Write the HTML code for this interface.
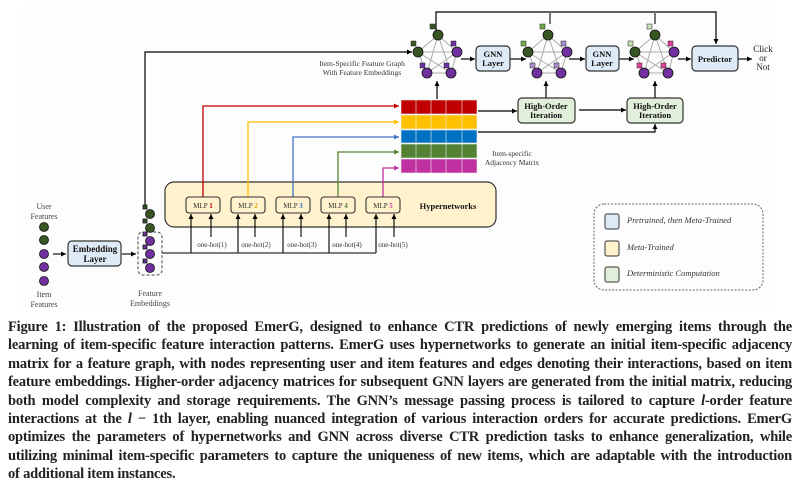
<!DOCTYPE html>
<html><head><meta charset="utf-8"><style>
body{margin:0;width:800px;height:479px;background:#fff;overflow:hidden;position:relative}
svg{position:absolute;left:0;top:0}
.cap{position:absolute;left:8px;width:784px;top:318px;font-family:"Liberation Serif",serif;font-size:14.5px;font-weight:bold;color:#222;line-height:18.4px;letter-spacing:-0.2px}
.cap div{text-align:justify;text-align-last:justify;white-space:nowrap;overflow:hidden}
.cap div.l{text-align-last:left}
</style></head><body>
<svg width="800" height="310" viewBox="0 0 800 310" font-family="Liberation Serif, serif">
<defs>
<marker id="a" markerWidth="6" markerHeight="6" refX="5" refY="3" orient="auto" markerUnits="userSpaceOnUse"><path d="M0,0.5 L5,3 L0,5.5z" fill="#000"/></marker>
<marker id="ar" markerWidth="6" markerHeight="6" refX="5" refY="3" orient="auto" markerUnits="userSpaceOnUse"><path d="M0,0.5 L5,3 L0,5.5z" fill="#c00000"/></marker>
<marker id="ay" markerWidth="6" markerHeight="6" refX="5" refY="3" orient="auto" markerUnits="userSpaceOnUse"><path d="M0,0.5 L5,3 L0,5.5z" fill="#ffc000"/></marker>
<marker id="ab" markerWidth="6" markerHeight="6" refX="5" refY="3" orient="auto" markerUnits="userSpaceOnUse"><path d="M0,0.5 L5,3 L0,5.5z" fill="#4472c4"/></marker>
<marker id="ag" markerWidth="6" markerHeight="6" refX="5" refY="3" orient="auto" markerUnits="userSpaceOnUse"><path d="M0,0.5 L5,3 L0,5.5z" fill="#548235"/></marker>
<marker id="am" markerWidth="6" markerHeight="6" refX="5" refY="3" orient="auto" markerUnits="userSpaceOnUse"><path d="M0,0.5 L5,3 L0,5.5z" fill="#c030a0"/></marker>
<g id="edges"><g stroke="#aaa" stroke-width="1" fill="none">
<path d="M0,0 L-20,17 M0,0 L19,17 M0,0 L-11,38 M0,0 L13,38 M-20,17 L19,17 M-20,17 L-11,38 M-20,17 L13,38 M19,17 L-11,38 M19,17 L13,38 M-11,38 L13,38"/></g></g>
</defs>
<rect x="22" y="6" width="752" height="303" fill="#fdfdfd"/>
<path d="M145,205 V52 H412" fill="none" stroke="#000" stroke-width="1.2" marker-end="url(#a)"/>
<path d="M436,33 V12 H716 V44" fill="none" stroke="#000" stroke-width="1.2" marker-end="url(#a)"/>
<path d="M550,12 V24 M655,12 V24" stroke="#777" stroke-width="2"/>
<g transform="translate(438,35)"><use href="#edges"/>
<rect x="-8" y="-11" width="5" height="5" fill="#375623" stroke="#222" stroke-width=".5"/><rect x="-27" y="6" width="5" height="5" fill="#375623" stroke="#222" stroke-width=".5"/><rect x="13" y="6" width="5" height="5" fill="#7030a0" stroke="#222" stroke-width=".5"/><rect x="-18" y="28" width="5" height="5" fill="#7030a0" stroke="#222" stroke-width=".5"/><rect x="6" y="28" width="5" height="5" fill="#7030a0" stroke="#222" stroke-width=".5"/>
<g stroke="#111" stroke-width=".8"><circle cx="0" cy="0" r="5" fill="#375623"/><circle cx="-20" cy="17" r="5" fill="#375623"/><circle cx="19" cy="17" r="5" fill="#7030a0"/><circle cx="-11" cy="38" r="5" fill="#7030a0"/><circle cx="13" cy="38" r="5" fill="#7030a0"/></g></g>
<g transform="translate(548,35)"><use href="#edges"/>
<rect x="-8" y="-11" width="5" height="5" fill="#70ad47" stroke="#222" stroke-width=".5"/><rect x="-27" y="6" width="5" height="5" fill="#70ad47" stroke="#222" stroke-width=".5"/><rect x="13" y="6" width="5" height="5" fill="#a98bd0" stroke="#222" stroke-width=".5"/><rect x="-18" y="28" width="5" height="5" fill="#a98bd0" stroke="#222" stroke-width=".5"/><rect x="6" y="28" width="5" height="5" fill="#a98bd0" stroke="#222" stroke-width=".5"/>
<g stroke="#111" stroke-width=".8"><circle cx="0" cy="0" r="5" fill="#375623"/><circle cx="-20" cy="17" r="5" fill="#375623"/><circle cx="19" cy="17" r="5" fill="#7030a0"/><circle cx="-11" cy="38" r="5" fill="#7030a0"/><circle cx="13" cy="38" r="5" fill="#7030a0"/></g></g>
<g transform="translate(655,35)"><use href="#edges"/>
<rect x="-8" y="-11" width="5" height="5" fill="#c5e0b4" stroke="#222" stroke-width=".5"/><rect x="-27" y="6" width="5" height="5" fill="#c5e0b4" stroke="#222" stroke-width=".5"/><rect x="13" y="6" width="5" height="5" fill="#e0409a" stroke="#222" stroke-width=".5"/><rect x="-18" y="28" width="5" height="5" fill="#e0409a" stroke="#222" stroke-width=".5"/><rect x="6" y="28" width="5" height="5" fill="#e0409a" stroke="#222" stroke-width=".5"/>
<g stroke="#111" stroke-width=".8"><circle cx="0" cy="0" r="5" fill="#375623"/><circle cx="-20" cy="17" r="5" fill="#375623"/><circle cx="19" cy="17" r="5" fill="#7030a0"/><circle cx="-11" cy="38" r="5" fill="#7030a0"/><circle cx="13" cy="38" r="5" fill="#7030a0"/></g></g>
<g stroke="#000" stroke-width="1.2" fill="none" marker-end="url(#a)">
<path d="M461,59 H475"/><path d="M510,59 H526"/><path d="M569,59 H585"/><path d="M619,59 H634"/><path d="M678,59 H691"/><path d="M738,59 H752"/>
<path d="M437,99 V81"/><path d="M546,98 V81"/><path d="M655,98 V81"/>
<path d="M478,111 H517"/><path d="M579,110 H626"/><path d="M478,132 H655 V124"/>
</g>
<g font-size="9" fill="#222" text-anchor="middle"><text x="763" y="52">Click</text><text x="763" y="61">or</text><text x="763" y="70">Not</text></g>
<g stroke="#333" stroke-width="1.2">
<rect x="476" y="46" width="34" height="25" rx="4" fill="#deebf7"/>
<rect x="586" y="46" width="33" height="25" rx="4" fill="#deebf7"/>
<rect x="692" y="46" width="46" height="25" rx="4" fill="#deebf7"/>
<rect x="518" y="98" width="57" height="25" rx="4" fill="#e2efda"/>
<rect x="627" y="98" width="56" height="25" rx="4" fill="#e2efda"/>
<rect x="68" y="241" width="53" height="25" rx="4" fill="#deebf7"/>
<rect x="165" y="182" width="331" height="45" rx="9" fill="#fff2cc"/>
</g>
<g font-size="8.5" font-weight="bold" text-anchor="middle" fill="#111">
<text x="493" y="57">GNN</text><text x="493" y="66">Layer</text>
<text x="602" y="57">GNN</text><text x="602" y="66">Layer</text>
<text x="715" y="62">Predictor</text>
<text x="546" y="109">High-Order</text><text x="546" y="118">Iteration</text>
<text x="655" y="109">High-Order</text><text x="655" y="118">Iteration</text>
<text x="95" y="252" font-size="9">Embedding</text><text x="95" y="262" font-size="9">Layer</text>
<text x="448" y="209">Hypernetworks</text>
</g>
<g stroke="#eee" stroke-width=".6">
<rect x="401" y="100" width="76" height="14" fill="#c00000"/>
<rect x="401" y="115" width="76" height="14" fill="#ffc000"/>
<rect x="401" y="130" width="76" height="13" fill="#0070c0"/>
<rect x="401" y="144" width="76" height="14" fill="#548235"/>
<rect x="401" y="159" width="76" height="14" fill="#c030a0"/>
<path d="M416,100 V173 M431,100 V173 M446,100 V173 M462,100 V173" fill="none"/>
</g>
<g font-size="7.5" fill="#333" text-anchor="middle"><text x="512" y="156">Item-specific</text><text x="512" y="165">Adjacency Matrix</text>
<text x="362" y="66">Item-Specific Feature Graph</text><text x="362" y="75">With Feature Embeddings</text></g>
<g fill="none" stroke-width="1.3">
<path d="M203,197 V106 H399" stroke="#c00000" marker-end="url(#ar)"/>
<path d="M248,197 V122 H399" stroke="#ffc000" marker-end="url(#ay)"/>
<path d="M293,197 V137 H399" stroke="#4472c4" marker-end="url(#ab)"/>
<path d="M338,197 V152 H399" stroke="#548235" marker-end="url(#ag)"/>
<path d="M383,197 V168 H399" stroke="#c030a0" marker-end="url(#am)"/>
</g>
<g stroke="#333" stroke-width="1.1" fill="#fff2cc">
<rect x="186" y="197" width="34" height="16" rx="3"/><rect x="231" y="197" width="34" height="16" rx="3"/><rect x="276" y="197" width="34" height="16" rx="3"/><rect x="321" y="197" width="34" height="16" rx="3"/><rect x="366" y="197" width="34" height="16" rx="3"/>
</g>
<g font-size="7" fill="#333" text-anchor="middle">
<text x="203" y="208">MLP <tspan fill="#c00000" font-weight="bold">1</tspan></text>
<text x="248" y="208">MLP <tspan fill="#e0a800" font-weight="bold">2</tspan></text>
<text x="293" y="208">MLP <tspan fill="#2e75b6" font-weight="bold">3</tspan></text>
<text x="338" y="208">MLP <tspan fill="#548235" font-weight="bold">4</tspan></text>
<text x="383" y="208">MLP <tspan fill="#c030a0" font-weight="bold">5</tspan></text>
<text x="212" y="247">one-hot(1)</text><text x="256" y="247">one-hot(2)</text><text x="302" y="247">one-hot(3)</text><text x="347" y="247">one-hot(4)</text><text x="393" y="247">one-hot(5)</text>
</g>
<g stroke="#000" stroke-width="1.1" fill="none" marker-end="url(#a)">
<path d="M191,253 V214"/><path d="M238,253 V214"/><path d="M283,253 V214"/><path d="M329,253 V214"/><path d="M376,253 V214"/>
<path d="M211,237 V214"/><path d="M255,237 V214"/><path d="M301,237 V214"/><path d="M346,237 V214"/><path d="M394,237 V214"/>
<path d="M53,254 H66"/><path d="M122,254 H136"/>
</g>
<path d="M162,253 H376" stroke="#333" stroke-width="1.2" fill="none"/>
<g font-size="8" fill="#444" text-anchor="middle"><text x="44" y="209">User</text><text x="44" y="219">Features</text><text x="44" y="297">Item</text><text x="44" y="307">Features</text><text x="150" y="296">Feature</text><text x="150" y="306">Embeddings</text></g>
<g stroke="#111" stroke-width=".8">
<circle cx="44" cy="227" r="4.5" fill="#375623"/><circle cx="44" cy="240" r="4.5" fill="#375623"/><circle cx="44" cy="254" r="4.5" fill="#7030a0"/><circle cx="44" cy="267" r="4.5" fill="#7030a0"/><circle cx="44" cy="281" r="4.5" fill="#7030a0"/>
<circle cx="150" cy="214" r="4.5" fill="#375623"/><circle cx="150" cy="228" r="4.5" fill="#375623"/><circle cx="150" cy="241" r="4.5" fill="#7030a0"/><circle cx="150" cy="254" r="4.5" fill="#7030a0"/><circle cx="150" cy="268" r="4.5" fill="#7030a0"/>
<rect x="143" y="205" width="4" height="4" fill="#375623"/><rect x="143" y="219" width="4" height="4" fill="#375623"/><rect x="143" y="232" width="4" height="4" fill="#7030a0"/><rect x="143" y="245" width="4" height="4" fill="#7030a0"/><rect x="143" y="259" width="4" height="4" fill="#7030a0"/>
</g>
<rect x="138" y="232" width="24" height="43" rx="5" fill="none" stroke="#444" stroke-dasharray="3,2"/>
<rect x="594" y="204" width="169" height="86" rx="10" fill="none" stroke="#666" stroke-dasharray="2,1.5"/>
<g stroke="#333" stroke-width="1"><rect x="605" y="214" width="14" height="15" rx="2" fill="#deebf7"/><rect x="605" y="241" width="14" height="15" rx="2" fill="#fff2cc"/><rect x="605" y="267" width="14" height="15" rx="2" fill="#e2efda"/></g>
<g font-size="8.5" font-style="italic" fill="#333"><text x="627" y="223">Pretrained, then Meta-Trained</text><text x="627" y="250">Meta-Trained</text><text x="627" y="276">Deterministic Computation</text></g>
</svg>
<div class="cap">
<div>Figure 1: Illustration of the proposed EmerG, designed to enhance CTR predictions of newly emerging items through the</div>
<div>learning of item-specific feature interaction patterns. EmerG uses hypernetworks to generate an initial item-specific adjacency</div>
<div>matrix for a feature graph, with nodes representing user and item features and edges denoting their interactions, based on item</div>
<div>feature embeddings. Higher-order adjacency matrices for subsequent GNN layers are generated from the initial matrix, reducing</div>
<div>both model complexity and storage requirements. The GNN’s message passing process is tailored to capture <i>l</i>-order feature</div>
<div>interactions at the <i>l</i> − 1th layer, enabling nuanced integration of various interaction orders for accurate predictions. EmerG</div>
<div>optimizes the parameters of hypernetworks and GNN across diverse CTR prediction tasks to enhance generalization, while</div>
<div>utilizing minimal item-specific parameters to capture the uniqueness of new items, which are adaptable with the introduction</div>
<div class="l">of additional item instances.</div>
</div>
</body></html>
